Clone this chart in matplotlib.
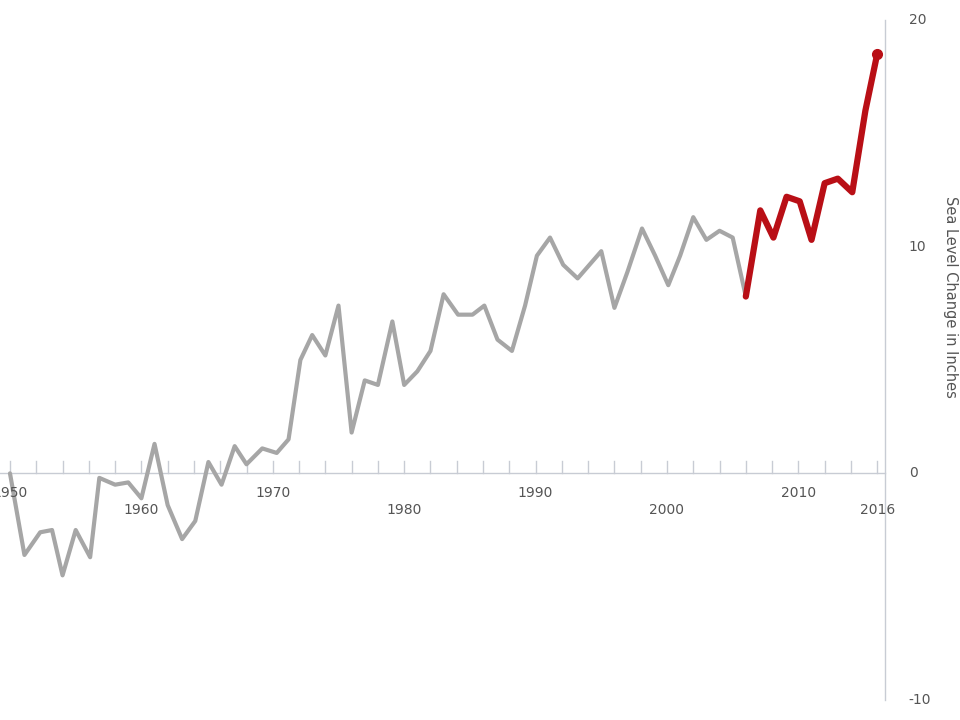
import matplotlib
matplotlib.use("Agg")
import matplotlib.pyplot as plt

gray_years = [1950, 1951.1, 1952.3, 1953.2, 1954, 1955, 1956.1, 1956.8, 1958, 1959, 1960, 1961, 1962, 1963.1,
              1964.1, 1965.1, 1966.1, 1967.1, 1968, 1969.2, 1970.3, 1971.2, 1972.1, 1973, 1974, 1975, 1976,
              1977, 1978, 1979.1, 1980, 1981, 1982, 1983, 1984.1, 1985.2, 1986.1, 1987.1, 1988.2, 1989.2,
              1990.1, 1991.1, 1992.1, 1993.2, 1994.1, 1995, 1996, 1997, 1998.1, 1999.1, 2000.1, 2001, 2002,
              2003, 2004, 2005, 2006]
gray_vals = [0, -3.6, -2.6, -2.5, -4.5, -2.5, -3.7, -0.2, -0.5, -0.4, -1.1, 1.3, -1.4, -2.9,
             -2.1, 0.5, -0.5, 1.2, 0.4, 1.1, 0.9, 1.5, 5.0, 6.1, 5.2, 7.4, 1.8,
             4.1, 3.9, 6.7, 3.9, 4.5, 5.4, 7.9, 7.0, 7.0, 7.4, 5.9, 5.4, 7.4,
             9.6, 10.4, 9.2, 8.6, 9.2, 9.8, 7.3, 8.9, 10.8, 9.6, 8.3, 9.6, 11.3,
             10.3, 10.7, 10.4, 7.8]
red_years = [2006, 2007.1, 2008.1, 2009.1, 2010.1, 2011, 2012, 2013, 2014.1, 2015.1, 2016]
red_vals = [7.8, 11.6, 10.4, 12.2, 12.0, 10.3, 12.8, 13.0, 12.4, 16.0, 18.5]
x_labels = [1950, 1960, 1970, 1980, 1990, 2000, 2010, 2016]
y_labels = [20, 10, 0, -10]

fig = plt.figure(figsize=(9.6, 7.2), dpi=100)
ax = fig.add_axes([0, 0, 1, 1])
ax.set_xlim(1949.24, 2022.3)
ax.set_ylim(-10.88, 20.88)
ax.axis("off")

axc = "#c8ccd4"
ax.plot([1949.24, 2016.6], [0, 0], color=axc, lw=1)
ax.plot([2016.6, 2016.6], [-10, 20], color=axc, lw=1)
for yr in range(1950, 2017, 2):
    ax.plot([yr, yr], [0, 0.55], color=axc, lw=1)
for i, yr in enumerate(x_labels):
    yy = -0.85 if i % 2 == 0 else -1.6
    ax.text(yr, yy, str(yr), ha="center", va="center", fontsize=10, color="#555555")
for v in y_labels:
    ax.text(2018.4, v, str(v), ha="left", va="center", fontsize=10, color="#555555")
ax.text(2021.6, 7.8, "Sea Level Change in Inches", rotation=270, ha="center", va="center",
        fontsize=10.5, color="#555555")

ax.plot(gray_years, gray_vals, color="#a6a6a6", lw=3, solid_joinstyle="round", solid_capstyle="round")
ax.plot(red_years, red_vals, color="#b90f16", lw=4.5, solid_joinstyle="round", solid_capstyle="round")
ax.plot([red_years[-1]], [red_vals[-1]], "o", color="#b90f16", ms=7)

fig.savefig("out.png", dpi=100)
